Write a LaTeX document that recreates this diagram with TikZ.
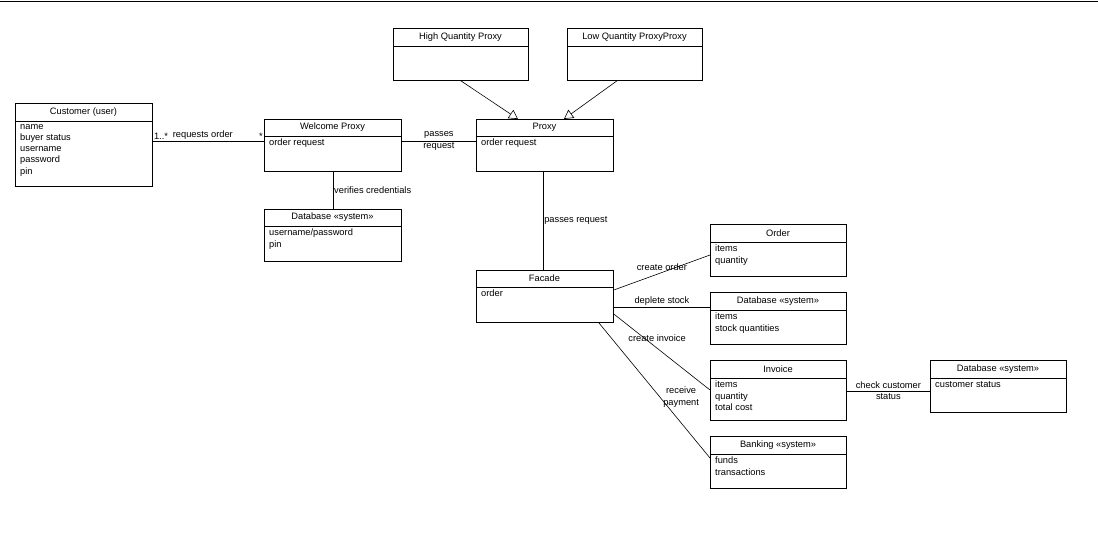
\documentclass[tikz,border=0pt]{standalone}
\usepackage{fontspec}
\setmainfont{Liberation Sans}
\usetikzlibrary{arrows.meta}
\begin{document}
\begin{tikzpicture}[x=1pt,y=-1pt,font=\fontsize{9.3}{11.2}\selectfont,
  box/.style={draw,line width=0.8pt,anchor=north west,inner sep=0pt},
  attr/.style={anchor=north west,align=left,inner sep=0pt},
  conn/.style={line width=0.6pt},
  lbl/.style={inner sep=1pt,align=center},
  gen/.style={conn,-{Triangle[open,length=9pt,width=10pt]}}]
\useasboundingbox (0,0) rectangle (1098,549);
\draw[line width=1pt] (0,1) -- (1098,1);
% \cls{name}{x1}{y1}{x2}{y2}{sep}{title}{attrs}
\newcommand\cls[8]{%
  \node[box,minimum width=#4-#2,minimum height=#5-#3] (#1) at (#2,#3) {};
  \draw[line width=0.8pt] (#2,#6) -- (#4,#6);
  \node[inner sep=0pt] (#1t) at ({(#2+#4)/2},{(#3+#6)/2}) {#7};
  \node[attr] (#1a) at (#2+5,#6+3) {#8};}
\cls{hq}{393}{28}{528}{80}{46}{High Quantity Proxy}{}
\cls{lq}{567}{28}{702}{80}{46}{Low Quantity ProxyProxy}{}
\cls{cust}{15}{103}{152}{186}{121}{Customer (user)}{name\\buyer status\\username\\password\\pin}
\cls{wel}{264}{119}{401}{171}{136}{Welcome Proxy}{order request}
\cls{proxy}{476}{119}{613}{171}{136}{Proxy}{order request}
\cls{db1}{264}{209}{401}{261}{226}{Database «system»}{username/password\\pin}
\cls{fac}{476}{270}{613}{322}{287}{Facade}{order}
\cls{ord}{710}{224}{846}{276}{242}{Order}{items\\quantity}
\cls{db2}{710}{292}{846}{344}{310}{Database «system»}{items\\stock quantities}
\cls{inv}{710}{360}{846}{420}{378}{Invoice}{items\\quantity\\total cost}
\cls{db3}{930}{360}{1066}{412}{378}{Database «system»}{customer status}
\cls{bank}{710}{436}{846}{488}{454}{Banking «system»}{funds\\transactions}
% connectors
\draw[conn] ([yshift=-38pt]cust.north east) -- node[lbl,above,pos=0.45]{requests order} ([yshift=-22pt]wel.north west);
\node[lbl,anchor=south west] at ([yshift=-38pt]cust.north east) {1..*};
\node[lbl,anchor=south east] at ([yshift=-22pt]wel.north west) {*};
\draw[conn] ([yshift=-22pt]wel.north east) -- node[lbl,midway]{passes\\request} ([yshift=-22pt]proxy.north west);
\draw[conn] (wel.south) -- node[lbl,right,midway]{verifies credentials} (db1.north);
\draw[gen] ([xshift=-68pt]hq.south east) -- ([xshift=42pt]proxy.north west);
\draw[gen] ([xshift=50pt]lq.south west) -- ([xshift=88pt]proxy.north west);
\draw[conn] ([xshift=67pt]proxy.south west) -- node[lbl,right,midway]{passes request} ([xshift=67pt]fac.north west);
\draw[conn] ([yshift=-20pt]fac.north east) -- node[lbl,midway,above=1pt]{create order} ([yshift=-31pt]ord.north west);
\draw[conn] ([yshift=-37pt]fac.north east) -- node[lbl,midway,above]{deplete stock} ([yshift=-15pt]db2.north west);
\draw[conn] ([yshift=-44pt]fac.north east) -- node[lbl,pos=0.45,above=5pt]{create invoice} ([yshift=-30pt]inv.north west);
\draw[conn] ([xshift=-15pt]fac.south east) -- node[lbl,pos=0.55,right=2pt]{receive\\payment} ([yshift=-22pt]bank.north west);
\draw[conn] ([yshift=-31pt]inv.north east) -- node[lbl,midway]{check customer\\status} ([yshift=-31pt]db3.north west);
\end{tikzpicture}
\end{document}
